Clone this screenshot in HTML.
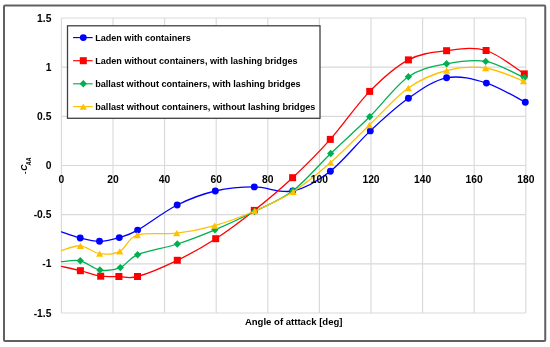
<!DOCTYPE html>
<html><head><meta charset="utf-8"><title>Angle of attack chart</title>
<style>
html,body{margin:0;padding:0;background:#fff;}
body{width:550px;height:347px;overflow:hidden;}
svg{display:block;}
text{font-family:"Liberation Sans",Arial,sans-serif;font-weight:bold;fill:#000;}
</style></head><body>
<svg width="550" height="347" viewBox="0 0 550 347">
<rect x="0" y="0" width="550" height="347" fill="#fff"/>
<rect x="4" y="5.5" width="541.25" height="335.4" rx="1" fill="#fff" stroke="#606060" stroke-width="2"/>
<path d="M61.40,18.0V313.0M113.00,18.0V313.0M164.60,18.0V313.0M216.20,18.0V313.0M267.80,18.0V313.0M319.40,18.0V313.0M371.00,18.0V313.0M422.60,18.0V313.0M474.20,18.0V313.0M525.80,18.0V313.0M61.4,18.00H525.8M61.4,67.17H525.8M61.4,116.33H525.8M61.4,165.50H525.8M61.4,214.67H525.8M61.4,263.83H525.8M61.4,313.00H525.8" stroke="#d9d9d9" stroke-width="1.1" fill="none"/>
<path d="M61.50,231.80 C64.62,232.83 73.87,236.42 80.20,238.00 C86.53,239.58 92.98,241.37 99.50,241.30 C106.02,241.23 112.95,239.47 119.30,237.60 C125.65,235.73 127.95,235.53 137.60,230.10 C147.25,224.67 164.25,211.52 177.20,205.00 C190.15,198.48 202.45,194.02 215.30,191.00 C228.15,187.98 241.40,186.90 254.30,186.90 C267.20,186.90 280.02,193.62 292.70,191.00 C305.38,188.38 317.47,181.22 330.40,171.20 C343.33,161.18 357.30,143.05 370.30,130.90 C383.30,118.75 395.68,107.15 408.40,98.30 C421.12,89.45 433.60,80.33 446.60,77.80 C459.60,75.27 473.28,79.03 486.40,83.10 C499.52,87.17 518.82,99.02 525.30,102.20" stroke="#0000FF" stroke-width="1.3" fill="none" stroke-linejoin="round" stroke-linecap="round"/>
<g><circle cx="80.20" cy="238.00" r="3.45" fill="#0000FF"/><circle cx="99.50" cy="241.30" r="3.45" fill="#0000FF"/><circle cx="119.30" cy="237.60" r="3.45" fill="#0000FF"/><circle cx="137.60" cy="230.10" r="3.45" fill="#0000FF"/><circle cx="177.20" cy="205.00" r="3.45" fill="#0000FF"/><circle cx="215.30" cy="191.00" r="3.45" fill="#0000FF"/><circle cx="254.30" cy="186.90" r="3.45" fill="#0000FF"/><circle cx="292.70" cy="191.00" r="3.45" fill="#0000FF"/><circle cx="330.40" cy="171.20" r="3.45" fill="#0000FF"/><circle cx="370.30" cy="130.90" r="3.45" fill="#0000FF"/><circle cx="408.40" cy="98.30" r="3.45" fill="#0000FF"/><circle cx="446.60" cy="77.80" r="3.45" fill="#0000FF"/><circle cx="486.40" cy="83.10" r="3.45" fill="#0000FF"/><circle cx="525.30" cy="102.20" r="3.45" fill="#0000FF"/></g>
<path d="M61.50,266.40 C64.65,267.12 73.87,269.07 80.40,270.70 C86.93,272.33 94.28,275.23 100.70,276.20 C107.12,277.17 112.77,276.45 118.90,276.50 C125.03,276.55 127.77,279.20 137.50,276.50 C147.23,273.80 164.27,266.60 177.30,260.30 C190.33,254.00 202.87,247.02 215.70,238.70 C228.53,230.38 241.48,220.57 254.30,210.40 C267.12,200.23 279.93,189.53 292.60,177.70 C305.27,165.87 317.45,153.78 330.30,139.40 C343.15,125.02 356.68,104.65 369.70,91.40 C382.72,78.15 395.58,66.68 408.40,59.90 C421.22,53.12 433.65,52.27 446.60,50.70 C459.55,49.13 473.15,46.63 486.10,50.50 C499.05,54.37 517.93,70.00 524.30,73.90" stroke="#FF0000" stroke-width="1.3" fill="none" stroke-linejoin="round" stroke-linecap="round"/>
<g><rect x="76.90" y="267.20" width="7.0" height="7.0" fill="#FF0000"/><rect x="97.20" y="272.70" width="7.0" height="7.0" fill="#FF0000"/><rect x="115.40" y="273.00" width="7.0" height="7.0" fill="#FF0000"/><rect x="134.00" y="273.00" width="7.0" height="7.0" fill="#FF0000"/><rect x="173.80" y="256.80" width="7.0" height="7.0" fill="#FF0000"/><rect x="212.20" y="235.20" width="7.0" height="7.0" fill="#FF0000"/><rect x="250.80" y="206.90" width="7.0" height="7.0" fill="#FF0000"/><rect x="289.10" y="174.20" width="7.0" height="7.0" fill="#FF0000"/><rect x="326.80" y="135.90" width="7.0" height="7.0" fill="#FF0000"/><rect x="366.20" y="87.90" width="7.0" height="7.0" fill="#FF0000"/><rect x="404.90" y="56.40" width="7.0" height="7.0" fill="#FF0000"/><rect x="443.10" y="47.20" width="7.0" height="7.0" fill="#FF0000"/><rect x="482.60" y="47.00" width="7.0" height="7.0" fill="#FF0000"/><rect x="520.80" y="70.40" width="7.0" height="7.0" fill="#FF0000"/></g>
<path d="M61.50,261.70 C64.63,261.55 73.90,259.42 80.30,260.80 C86.70,262.18 93.23,268.87 99.90,270.00 C106.57,271.13 114.02,270.15 120.30,267.60 C126.58,265.05 128.10,258.63 137.60,254.70 C147.10,250.77 164.42,248.15 177.30,244.00 C190.18,239.85 202.03,235.22 214.90,229.80 C227.77,224.38 241.52,218.00 254.50,211.50 C267.48,205.00 280.10,200.47 292.80,190.80 C305.50,181.13 317.88,165.85 330.70,153.50 C343.52,141.15 356.75,129.50 369.70,116.70 C382.65,103.90 395.58,85.52 408.40,76.70 C421.22,67.88 433.72,66.35 446.60,63.80 C459.48,61.25 472.75,59.07 485.70,61.40 C498.65,63.73 517.87,75.07 524.30,77.80" stroke="#00B050" stroke-width="1.3" fill="none" stroke-linejoin="round" stroke-linecap="round"/>
<g><path d="M80.30,257.10L84.00,260.80L80.30,264.50L76.60,260.80Z" fill="#00B050"/><path d="M99.90,266.30L103.60,270.00L99.90,273.70L96.20,270.00Z" fill="#00B050"/><path d="M120.30,263.90L124.00,267.60L120.30,271.30L116.60,267.60Z" fill="#00B050"/><path d="M137.60,251.00L141.30,254.70L137.60,258.40L133.90,254.70Z" fill="#00B050"/><path d="M177.30,240.30L181.00,244.00L177.30,247.70L173.60,244.00Z" fill="#00B050"/><path d="M214.90,226.10L218.60,229.80L214.90,233.50L211.20,229.80Z" fill="#00B050"/><path d="M254.50,207.80L258.20,211.50L254.50,215.20L250.80,211.50Z" fill="#00B050"/><path d="M292.80,187.10L296.50,190.80L292.80,194.50L289.10,190.80Z" fill="#00B050"/><path d="M330.70,149.80L334.40,153.50L330.70,157.20L327.00,153.50Z" fill="#00B050"/><path d="M369.70,113.00L373.40,116.70L369.70,120.40L366.00,116.70Z" fill="#00B050"/><path d="M408.40,73.00L412.10,76.70L408.40,80.40L404.70,76.70Z" fill="#00B050"/><path d="M446.60,60.10L450.30,63.80L446.60,67.50L442.90,63.80Z" fill="#00B050"/><path d="M485.70,57.70L489.40,61.40L485.70,65.10L482.00,61.40Z" fill="#00B050"/><path d="M524.30,74.10L528.00,77.80L524.30,81.50L520.60,77.80Z" fill="#00B050"/></g>
<path d="M61.50,250.60 C64.65,249.80 74.03,245.28 80.40,245.80 C86.77,246.32 93.13,252.78 99.70,253.70 C106.27,254.62 113.55,254.42 119.80,251.30 C126.05,248.18 127.72,238.02 137.20,235.00 C146.68,231.98 163.80,234.77 176.70,233.20 C189.60,231.63 201.58,229.30 214.60,225.60 C227.62,221.90 241.70,216.63 254.80,211.00 C267.90,205.37 280.57,199.87 293.20,191.80 C305.83,183.73 317.90,173.73 330.60,162.60 C343.30,151.47 356.45,137.43 369.40,125.00 C382.35,112.57 395.43,97.08 408.30,88.00 C421.17,78.92 433.72,73.83 446.60,70.50 C459.48,67.17 472.78,66.25 485.60,68.00 C498.42,69.75 517.18,78.83 523.50,81.00" stroke="#FFC000" stroke-width="1.3" fill="none" stroke-linejoin="round" stroke-linecap="round"/>
<g><path d="M80.40,242.65L84.00,248.95L76.80,248.95Z" fill="#FFC000"/><path d="M99.70,250.55L103.30,256.85L96.10,256.85Z" fill="#FFC000"/><path d="M119.80,248.15L123.40,254.45L116.20,254.45Z" fill="#FFC000"/><path d="M137.20,231.85L140.80,238.15L133.60,238.15Z" fill="#FFC000"/><path d="M176.70,230.05L180.30,236.35L173.10,236.35Z" fill="#FFC000"/><path d="M214.60,222.45L218.20,228.75L211.00,228.75Z" fill="#FFC000"/><path d="M254.80,207.85L258.40,214.15L251.20,214.15Z" fill="#FFC000"/><path d="M293.20,188.65L296.80,194.95L289.60,194.95Z" fill="#FFC000"/><path d="M330.60,159.45L334.20,165.75L327.00,165.75Z" fill="#FFC000"/><path d="M369.40,121.85L373.00,128.15L365.80,128.15Z" fill="#FFC000"/><path d="M408.30,84.85L411.90,91.15L404.70,91.15Z" fill="#FFC000"/><path d="M446.60,67.35L450.20,73.65L443.00,73.65Z" fill="#FFC000"/><path d="M485.60,64.85L489.20,71.15L482.00,71.15Z" fill="#FFC000"/><path d="M523.50,77.85L527.10,84.15L519.90,84.15Z" fill="#FFC000"/></g>
<text x="51.4" y="21.60" font-size="10.3" text-anchor="end">1.5</text>
<text x="51.4" y="70.77" font-size="10.3" text-anchor="end">1</text>
<text x="51.4" y="119.93" font-size="10.3" text-anchor="end">0.5</text>
<text x="51.4" y="169.10" font-size="10.3" text-anchor="end">0</text>
<text x="51.4" y="218.27" font-size="10.3" text-anchor="end">-0.5</text>
<text x="51.4" y="267.43" font-size="10.3" text-anchor="end">-1</text>
<text x="51.4" y="316.60" font-size="10.3" text-anchor="end">-1.5</text>
<text x="61.40" y="183.0" font-size="10.3" text-anchor="middle">0</text>
<text x="113.00" y="183.0" font-size="10.3" text-anchor="middle">20</text>
<text x="164.60" y="183.0" font-size="10.3" text-anchor="middle">40</text>
<text x="216.20" y="183.0" font-size="10.3" text-anchor="middle">60</text>
<text x="267.80" y="183.0" font-size="10.3" text-anchor="middle">80</text>
<text x="319.40" y="183.0" font-size="10.3" text-anchor="middle">100</text>
<text x="371.00" y="183.0" font-size="10.3" text-anchor="middle">120</text>
<text x="422.60" y="183.0" font-size="10.3" text-anchor="middle">140</text>
<text x="474.20" y="183.0" font-size="10.3" text-anchor="middle">160</text>
<text x="525.80" y="183.0" font-size="10.3" text-anchor="middle">180</text>
<text x="244.9" y="324.9" font-size="9.2" textLength="97.6" lengthAdjust="spacingAndGlyphs">Angle of atttack [deg]</text>
<g transform="translate(26.7,174) rotate(-90)"><text x="0" y="0.6" font-size="8">-</text><text x="3.2" y="0" font-size="8.5" font-style="italic">C</text><text x="8.4" y="4.3" font-size="7" font-style="italic" textLength="8.2" lengthAdjust="spacingAndGlyphs">AA</text></g>
<rect x="67.5" y="25.8" width="252.5" height="92.5" fill="#fff" stroke="#404040" stroke-width="1.3"/>
<path d="M73.1,37.6H92.7" stroke="#0000FF" stroke-width="1.15"/>
<circle cx="83.30" cy="37.60" r="3.45" fill="#0000FF"/>
<text x="95.2" y="40.80" font-size="9.2" textLength="95.6" lengthAdjust="spacingAndGlyphs">Laden with containers</text>
<path d="M73.1,60.7H92.7" stroke="#FF0000" stroke-width="1.15"/>
<rect x="79.80" y="57.20" width="7.0" height="7.0" fill="#FF0000"/>
<text x="95.2" y="63.90" font-size="9.2" textLength="202.3" lengthAdjust="spacingAndGlyphs">Laden without containers, with lashing bridges</text>
<path d="M73.1,83.8H92.7" stroke="#00B050" stroke-width="1.15"/>
<path d="M83.30,80.10L87.00,83.80L83.30,87.50L79.60,83.80Z" fill="#00B050"/>
<text x="95.2" y="87.00" font-size="9.2" textLength="205.4" lengthAdjust="spacingAndGlyphs">ballast without containers, with lashing bridges</text>
<path d="M73.1,106.6H92.7" stroke="#FFC000" stroke-width="1.15"/>
<path d="M83.30,103.45L86.90,109.75L79.70,109.75Z" fill="#FFC000"/>
<text x="95.2" y="109.80" font-size="9.2" textLength="220.2" lengthAdjust="spacingAndGlyphs">ballast without containers, without lashing bridges</text>
</svg></body></html>
